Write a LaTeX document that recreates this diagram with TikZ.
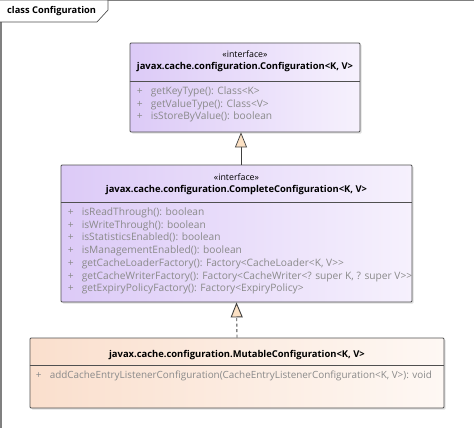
\documentclass[tikz,border=0pt]{standalone}
\usepackage{fontspec}
\setmainfont{Open Sans}
\usepackage{tikz}
\usetikzlibrary{positioning,arrows.meta,calc,shadows}
\definecolor{ifaceleft}{HTML}{DCCAF7}
\definecolor{ifaceright}{HTML}{F6F1FD}
\definecolor{implleft}{HTML}{FADFCD}
\definecolor{implright}{HTML}{FEF8F4}
\definecolor{boxline}{HTML}{505050}
\definecolor{framegray}{HTML}{808080}
\definecolor{attrgray}{HTML}{8A8A8A}
\definecolor{tipfill}{HTML}{FBE0C3}
\tikzset{
  classbox/.style={
    rectangle, draw=boxline, line width=0.8pt, rounded corners=1pt,
    drop shadow={shadow xshift=1.5pt, shadow yshift=-1.5pt, opacity=0.25}
  },
  ifacebox/.style={classbox, left color=ifaceleft, right color=ifaceright},
  implbox/.style={classbox, left color=implleft, right color=implright},
  stereo/.style={font=\fontsize{8.8}{10}\selectfont, inner sep=0pt},
  cname/.style={font=\fontsize{9.4}{10}\selectfont\bfseries, inner sep=0pt},
  attrs/.style={
    font=\fontsize{10.2}{12.7}\selectfont, text=attrgray,
    align=left, inner sep=0pt, anchor=north west
  },
  sep/.style={draw=boxline, line width=0.6pt},
  gen/.style={
    -{Triangle[length=15pt, width=12pt, fill=tipfill]},
    draw=boxline!80!black, line width=0.7pt
  },
  realize/.style={gen, dashed, dash pattern=on 3pt off 2.5pt, line width=0.9pt}
}
\newcommand{\pl}{\makebox[14pt][l]{+}}

\begin{document}
\begin{tikzpicture}[x=1pt, y=-1pt]
\useasboundingbox (0,0) rectangle (474,428);

% rahmen
\draw[framegray, line width=3pt] (0,428) -- (0,0) -- (474,0);
\draw[boxline, line width=0.7pt, fill=white] (0,0) -- (108,0) -- (108,10) -- (97,22) -- (0,22);
\node[font=\fontsize{9.3}{11}\selectfont\bfseries, anchor=west, inner sep=0pt] (frametitle) at (7,11) {class Configuration};

% klassen
\node[ifacebox, minimum width=230pt, minimum height=89pt] (cfg) at (245,87.5) {};
\node[ifacebox, minimum width=351pt, minimum height=137pt] (complete) at (236.5,233.5) {};
\node[implbox, minimum width=414pt, minimum height=70pt] (mutable) at (237,373) {};

% Configuration
\node[stereo] (cfgst) at ([yshift=-12pt]cfg.north) {«interface»};
\node[cname, below=3.5pt of cfgst] (cfgname) {javax.cache.configuration.Configuration<K, V>};
\draw[sep] ([yshift=-39pt]cfg.north west) -- ([yshift=-39pt]cfg.north east);
\node[attrs] (cfgattr) at ([xshift=7pt, yshift=-44pt]cfg.north west) {%
\pl getKeyType(): Class<K>\\
\pl getValueType(): Class<V>\\
\pl isStoreByValue(): boolean};

% CompleteConfiguration
\node[stereo] (compst) at ([yshift=-13pt]complete.north) {«interface»};
\node[cname, below=3.5pt of compst] (compname) {javax.cache.configuration.CompleteConfiguration<K, V>};
\draw[sep] ([yshift=-38pt]complete.north west) -- ([yshift=-38pt]complete.north east);
\node[attrs] (compattr) at ([xshift=7pt, yshift=-43pt]complete.north west) {%
\pl isReadThrough(): boolean\\
\pl isWriteThrough(): boolean\\
\pl isStatisticsEnabled(): boolean\\
\pl isManagementEnabled(): boolean\\
\pl getCacheLoaderFactory(): Factory<CacheLoader<K, V>{}>\\
\pl getCacheWriterFactory(): Factory<CacheWriter<? super K, ? super V>{}>\\
\pl getExpiryPolicyFactory(): Factory<ExpiryPolicy>};

% MutableConfiguration
\node[cname] (mutname) at ([yshift=-17pt]mutable.north) {javax.cache.configuration.MutableConfiguration<K, V>};
\draw[sep] ([yshift=-28pt]mutable.north west) -- ([yshift=-28pt]mutable.north east);
\node[attrs, font=\fontsize{9.9}{12.7}\selectfont] (mutattr) at ([xshift=6pt, yshift=-33pt]mutable.north west) {%
\pl addCacheEntryListenerConfiguration(CacheEntryListenerConfiguration<K, V>): void};

% beziehungen
\draw[gen] ([xshift=4.5pt]complete.north) -- ([xshift=-4pt]cfg.south);
\draw[realize] (mutable.north) -- (complete.south);
\end{tikzpicture}
\end{document}
